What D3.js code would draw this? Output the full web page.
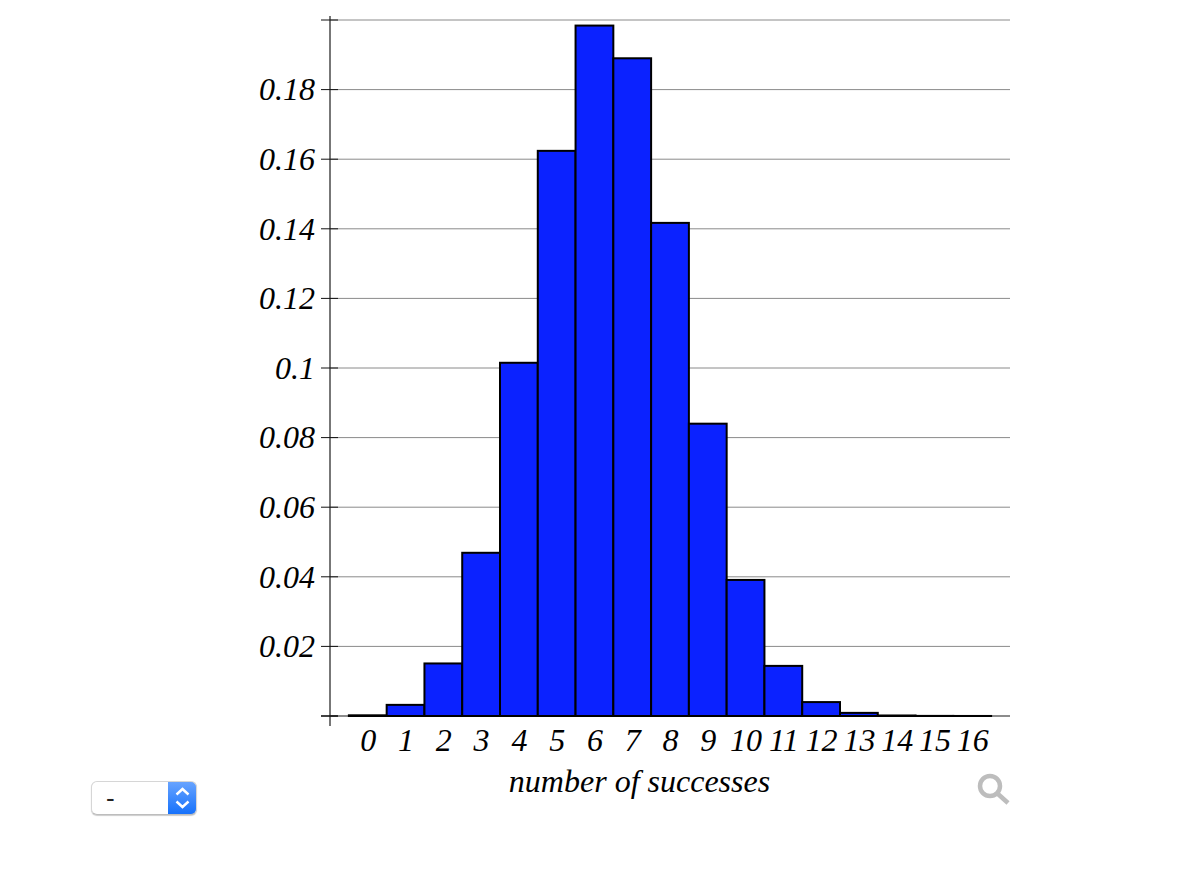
<!DOCTYPE html>
<html>
<head>
<meta charset="utf-8">
<script src="https://cdn.jsdelivr.net/npm/d3@7"></script>
<style>
  html, body { margin: 0; padding: 0; background: #fff; overflow: hidden; }
  #mon_script { position: absolute; left: 0; top: 0; }
  #selectButton {
    position: absolute; left: 91px; top: 781px; width: 106px; height: 34px;
    box-sizing: border-box; margin: 0; padding: 0 0 0 14px;
    -webkit-appearance: none; appearance: none; outline: none;
    border: 1px solid #d6d6d6; border-bottom-color: #bdbdbd; border-radius: 6px;
    box-shadow: 0 1px 1px rgba(0,0,0,0.2);
    font: 26px "Liberation Sans", sans-serif; color: #222;
    background-color: #fff;
    background-image:
      url("data:image/svg+xml,%3Csvg xmlns='http://www.w3.org/2000/svg' width='29' height='34'%3E%3Cpath d='M8.5 13.5 L14.5 8 L20.5 13.5 M8.5 20.5 L14.5 26 L20.5 20.5' fill='none' stroke='white' stroke-width='2.4'/%3E%3C/svg%3E"),
      linear-gradient(#6aa5ff, #1470fb);
    background-repeat: no-repeat;
    background-origin: border-box;
    background-clip: border-box, border-box;
    background-position: right top;
    background-size: 29px 34px;
  }
  .tick text { font-family: "Liberation Serif", serif; font-style: italic; font-size: 32px; fill: #000; }
</style>
</head>
<body>
<div id="mon_script"></div>
<select id="selectButton"></select>
<script>
// Valeurs
var successes = [0, 1, 2, 3, 4, 5, 6, 7, 8, 9, 10, 11, 12, 13, 14, 15, 16];
var probabilities = [0.0002, 0.0032, 0.0151, 0.0469, 0.1015, 0.1624, 0.1984, 0.189, 0.1417, 0.084, 0.0391, 0.0144, 0.004, 0.0009, 0.00015, 0.00003, 0.00001];
var yTicks = [0.02, 0.04, 0.06, 0.08, 0.1, 0.12, 0.14, 0.16, 0.18];
var yLimits = [0, 0.2];
var xLabel = "number of successes";
var selectOptions = ["-"];

var width = 1198, height = 872;

var svg = d3.select("#mon_script")
  .append("svg")
    .attr("width", width)
    .attr("height", height);

var x = d3.scaleLinear().domain([-1, 17]).range([330, 1010]);
var y = d3.scaleLinear().domain(yLimits).range([716, 20]);

// Lignes horizontales
svg.append("g")
  .selectAll("line")
  .data(yLimits.concat(yTicks))
  .enter()
  .append("line")
    .attr("x1", x(-1))
    .attr("x2", x(17))
    .attr("y1", function(d) { return y(d); })
    .attr("y2", function(d) { return y(d); })
    .attr("stroke", function(d) { return d == 0 ? "#666" : "#8a8a8a"; })
    .attr("stroke-width", function(d) { return d == 0 ? 1.6 : 1; });

// Barres
svg.append("g")
  .selectAll("rect")
  .data(successes)
  .enter()
  .append("rect")
    .attr("x", function(d) { return x(d - 0.5); })
    .attr("width", x(1) - x(0))
    .attr("y", function(d, i) { return y(probabilities[i]); })
    .attr("height", function(d, i) { return y(0) - y(probabilities[i]); })
    .attr("fill", "#0b22ff")
    .attr("stroke", "#000")
    .attr("stroke-width", 2);

// Axe X
var xAxis = svg.append("g")
  .attr("transform", "translate(0," + y(0) + ")")
  .call(d3.axisBottom(x).tickValues(successes).tickSize(0).tickPadding(12).tickFormat(d3.format("d")));
xAxis.select(".domain").remove();

// Axe Y
var yAxis = svg.append("g")
  .attr("transform", "translate(" + x(-1) + ",0)")
  .call(d3.axisLeft(y).tickValues(yTicks).tickSize(0).tickPadding(15).tickFormat(function(d) { return String(d); }));
yAxis.select(".domain").remove();
yAxis.selectAll(".tick text").attr("dy", "0.32em");

svg.append("line")
  .attr("x1", x(-1)).attr("x2", x(-1))
  .attr("y1", y(yLimits[1]) - 4).attr("y2", y(0) + 10)
  .attr("stroke", "#555").attr("stroke-width", 1.6);

// Petits traits de l'axe Y
svg.append("g")
  .selectAll("line")
  .data(yLimits.concat(yTicks))
  .enter()
  .append("line")
    .attr("x1", x(-1) - 9)
    .attr("x2", x(-1) + 8)
    .attr("y1", function(d) { return y(d); })
    .attr("y2", function(d) { return y(d); })
    .attr("stroke", "#111")
    .attr("stroke-width", function(d) { return d == 0 ? 1.6 : 1; });

// Titre de l'axe X
svg.append("text")
  .attr("x", 639.5)
  .attr("y", 792)
  .attr("text-anchor", "middle")
  .style("font-family", '"Liberation Serif", serif')
  .style("font-style", "italic")
  .style("font-size", "32px")
  .text(xLabel);

// Loupe
var zoomIcon = svg.append("g")
  .attr("fill", "none")
  .attr("stroke", "#bdbdbd")
  .attr("stroke-width", 4.5);
zoomIcon.append("circle").attr("cx", 990).attr("cy", 786).attr("r", 10);
zoomIcon.append("line").attr("x1", 998).attr("y1", 794).attr("x2", 1008).attr("y2", 803);

// Liste déroulante
d3.select("#selectButton")
  .selectAll("option")
  .data(selectOptions)
  .enter()
  .append("option")
    .text(function(d) { return d; })
    .attr("value", function(d) { return d; });
</script>
</body>
</html>
